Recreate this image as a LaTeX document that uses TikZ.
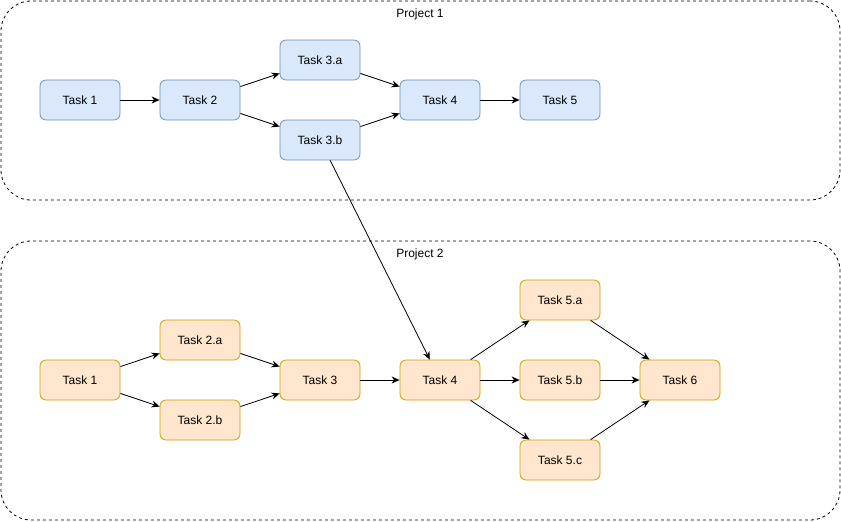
\documentclass[tikz,border=0pt]{standalone}
\usepackage{fontspec}
\setmainfont{Liberation Sans}
\usetikzlibrary{arrows.meta}
\definecolor{blueFill}{HTML}{DAE8FC}
\definecolor{blueLine}{HTML}{6C8EBF}
\definecolor{orangeFill}{HTML}{FFE6CC}
\definecolor{orangeLine}{HTML}{D79B00}

\begin{document}
\begin{tikzpicture}[x=1pt, y=-1pt,
  every node/.style={font=\fontsize{12}{14}\selectfont},
  group/.style={draw, dash pattern=on 3pt off 3pt, rounded corners=30pt,
                line width=0.8pt, minimum width=839pt},
  task/.style={draw, rounded corners=6pt, line width=0.8pt,
               minimum width=80pt, minimum height=40pt, inner sep=0pt},
  p1task/.style={task, fill=blueFill, draw=blueLine},
  p2task/.style={task, fill=orangeFill, draw=orangeLine},
  arr/.style={-{Stealth[length=8pt, width=7pt, inset=2.5pt]}, line width=0.8pt}]
\useasboundingbox (0,0) rectangle (841,522);
% containers
\node[group, minimum height=199pt] (proj1) at (420.5,100.5) {};
\node[group, minimum height=279pt] (proj2) at (420.5,380.5) {};
\node (proj1label) at (420,14) {Project 1};
\node (proj2label) at (420,254) {Project 2};
% project 1
\node[p1task] (a1) at (80,100) {Task 1};
\node[p1task] (a2) at (200,100) {Task 2};
\node[p1task] (a3a) at (320,60) {Task 3.a};
\node[p1task] (a3b) at (320,140) {Task 3.b};
\node[p1task] (a4) at (440,100) {Task 4};
\node[p1task] (a5) at (560,100) {Task 5};
% project 2
\node[p2task] (b1) at (80,380) {Task 1};
\node[p2task] (b2a) at (200,340) {Task 2.a};
\node[p2task] (b2b) at (200,420) {Task 2.b};
\node[p2task] (b3) at (320,380) {Task 3};
\node[p2task] (b4) at (440,380) {Task 4};
\node[p2task] (b5a) at (560,300) {Task 5.a};
\node[p2task] (b5b) at (560,380) {Task 5.b};
\node[p2task] (b5c) at (560,460) {Task 5.c};
\node[p2task] (b6) at (680,380) {Task 6};
% edges
\draw[arr] (a1) -- (a2);
\draw[arr] (a2) -- (a3a);
\draw[arr] (a2) -- (a3b);
\draw[arr] (a3a) -- (a4);
\draw[arr] (a3b) -- (a4);
\draw[arr] (a4) -- (a5);
\draw[arr] (a3b) -- (b4);
\draw[arr] (b1) -- (b2a);
\draw[arr] (b1) -- (b2b);
\draw[arr] (b2a) -- (b3);
\draw[arr] (b2b) -- (b3);
\draw[arr] (b3) -- (b4);
\draw[arr] (b4) -- (b5a);
\draw[arr] (b4) -- (b5b);
\draw[arr] (b4) -- (b5c);
\draw[arr] (b5a) -- (b6);
\draw[arr] (b5b) -- (b6);
\draw[arr] (b5c) -- (b6);
\end{tikzpicture}
\end{document}
